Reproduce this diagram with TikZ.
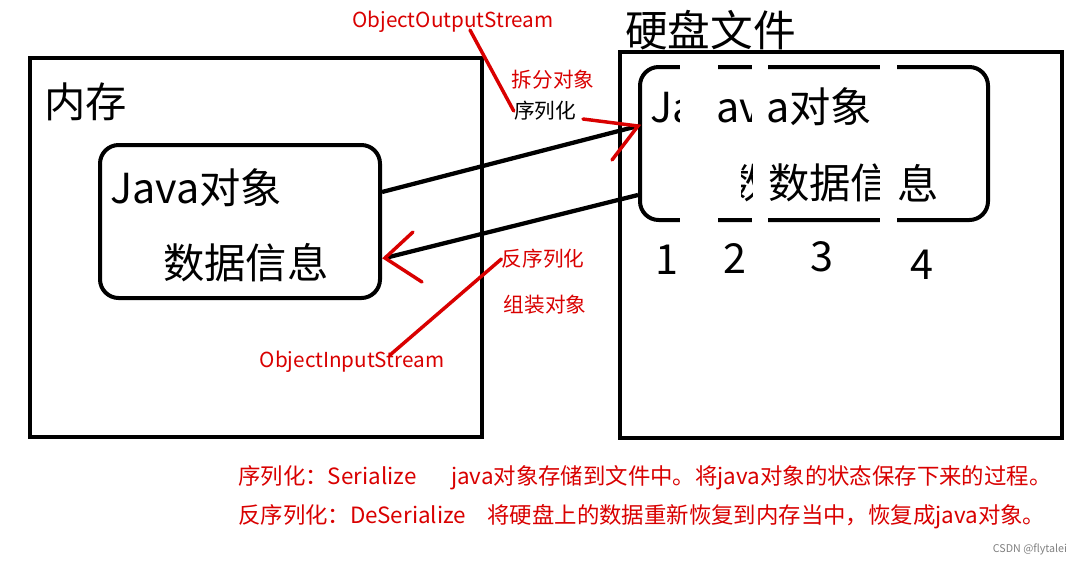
\documentclass[tikz,border=0pt]{standalone}
\usepackage{fontspec}
\setmainfont{Noto Sans CJK SC}
\begin{document}
\begin{tikzpicture}[x=0.75pt,y=-0.75pt,
  blk/.style={line width=3pt},
  rl/.style={draw=red!85!black,line width=2.6pt,line cap=round},
  lab/.style={inner sep=0pt,text=red!85!black,font=\fontsize{15.5}{17}\selectfont},
  botl/.style={inner sep=0pt,text=red!85!black,font=\fontsize{16.8}{18}\selectfont},
  big/.style={inner sep=0pt,font=\fontsize{31}{34}\selectfont},
  bl/.style={line width=3.2pt}]
\useasboundingbox (0,0) rectangle (1091,565);
\fill[white] (0,0) rectangle (1091,565);
% left
\node[draw,blk,minimum width=452*0.75pt,minimum height=379*0.75pt,inner sep=0pt] (mem) at (256,247.5) {};
\node[big,anchor=west] (memt) at (44,102) {内存};
\node[draw,blk,rounded corners=14pt,minimum width=280*0.75pt,minimum height=153*0.75pt] (obj) at (240,221.5) {};
\node[big,anchor=west] (j1) at (110,188) {Java对象};
\node[big,anchor=west] (d1) at (163,263) {数据信息};
% right
\node[draw,blk,minimum width=442*0.75pt,minimum height=386*0.75pt,inner sep=0pt] (disk) at (841,245) {};
\node[big,anchor=west,font=\fontsize{32}{35}\selectfont] (diskt) at (625,30) {硬盘文件};
\node[draw,blk,rounded corners=14pt,minimum width=348*0.75pt,minimum height=153*0.75pt] (obj2) at (814,143.5) {};
\node[big,anchor=base west] (p1) at (650,122) {Ja};
\node[big,anchor=base west] (p2) at (716,122) {av};
\node[big,anchor=base west] (p3) at (766,122) {a对象};
\node[big,anchor=west] (p4) at (768,183) {数据信};
\node[big,anchor=west] (p5) at (897,183) {息};
\fill[white] (680,62) rectangle (718,226);
\fill[white] (752,62) rectangle (768,226);
\fill[white] (880,62) rectangle (897,226);
\begin{scope}
\clip (741,150) rectangle (752,215);
\node[big,anchor=east] (p6) at (768,183) {数};
\end{scope}
\node[big] (n1) at (667,260) {1};
\node[big] (n2) at (735,258) {2};
\node[big] (n3) at (822,257) {3};
\node[big] (n4) at (922,265) {4};
% arrows
\coordinate (a1) at (638,126);
\coordinate (a2) at (385,258);
\draw[bl] (obj.east |- 0,192) -- (a1);
\draw[bl] (obj2.west |- 0,195) -- (a2);
\draw[rl] (583,119) -- (a1) -- (612,160);
\draw[rl] (413,232) -- (a2) -- (422,282);
% labels
\node[lab] (oos) at (453,22) {ObjectOutputStream};
\node[lab] (cf) at (553,80) {拆分对象};
\node[lab,text=black] (xl) at (545,111) {序列化};
\node[lab] (fx) at (543,259) {反序列化};
\node[lab] (zz) at (545,305) {组装对象};
\node[lab] (ois) at (352,362) {ObjectInputStream};
\draw[rl] (470,30) -- (xl.west);
\draw[rl] (fx.west) -- (390,355);
\node[botl,anchor=west] (s1) at (238,478) {序列化：Serialize\hspace{26pt}java对象存储到文件中。将java对象的状态保存下来的过程。};
\node[botl,anchor=west] (s2) at (238,517) {反序列化：DeSerialize\hspace{16pt}将硬盘上的数据重新恢复到内存当中，恢复成java对象。};
\node[inner sep=0pt,text=gray,font=\fontsize{8}{9}\selectfont] (csdn) at (1030,549) {CSDN @flytalei};
\end{tikzpicture}
\end{document}
